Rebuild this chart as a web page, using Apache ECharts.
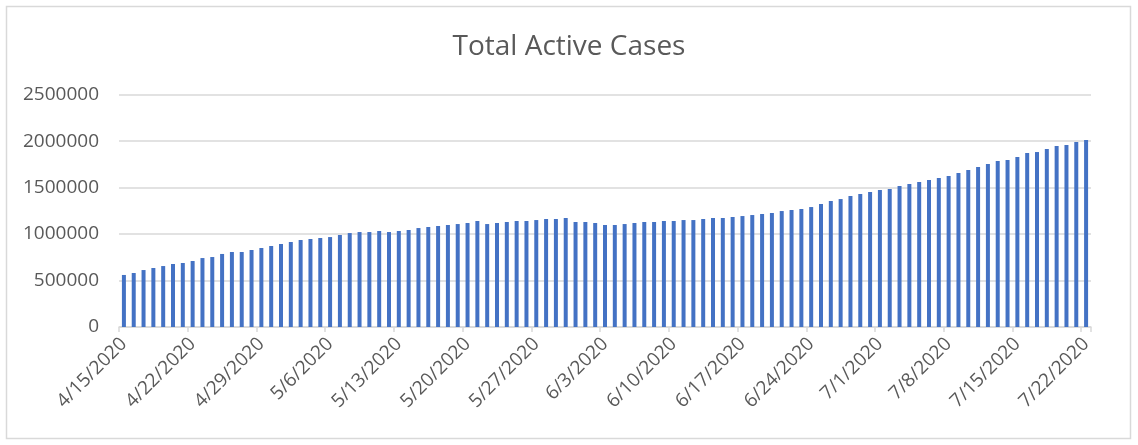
<!DOCTYPE html>
<html>
<head>
<meta charset="utf-8">
<script src="https://cdn.jsdelivr.net/npm/echarts@6/dist/echarts.min.js"></script>
<style>
html,body{margin:0;padding:0;background:#fff;}
#c{width:1138px;height:445px;}
</style>
</head>
<body>
<div id="c"></div>
<script>
var chartTitle = "Total Active Cases";
var dates = [
"4/15/2020","4/16/2020","4/17/2020","4/18/2020","4/19/2020","4/20/2020","4/21/2020","4/22/2020","4/23/2020","4/24/2020","4/25/2020","4/26/2020","4/27/2020","4/28/2020","4/29/2020","4/30/2020",
"5/1/2020","5/2/2020","5/3/2020","5/4/2020","5/5/2020","5/6/2020","5/7/2020","5/8/2020","5/9/2020","5/10/2020","5/11/2020","5/12/2020","5/13/2020","5/14/2020","5/15/2020","5/16/2020","5/17/2020","5/18/2020","5/19/2020","5/20/2020","5/21/2020","5/22/2020","5/23/2020","5/24/2020","5/25/2020","5/26/2020","5/27/2020","5/28/2020","5/29/2020","5/30/2020","5/31/2020",
"6/1/2020","6/2/2020","6/3/2020","6/4/2020","6/5/2020","6/6/2020","6/7/2020","6/8/2020","6/9/2020","6/10/2020","6/11/2020","6/12/2020","6/13/2020","6/14/2020","6/15/2020","6/16/2020","6/17/2020","6/18/2020","6/19/2020","6/20/2020","6/21/2020","6/22/2020","6/23/2020","6/24/2020","6/25/2020","6/26/2020","6/27/2020","6/28/2020","6/29/2020","6/30/2020",
"7/1/2020","7/2/2020","7/3/2020","7/4/2020","7/5/2020","7/6/2020","7/7/2020","7/8/2020","7/9/2020","7/10/2020","7/11/2020","7/12/2020","7/13/2020","7/14/2020","7/15/2020","7/16/2020","7/17/2020","7/18/2020","7/19/2020","7/20/2020","7/21/2020","7/22/2020"
];
var activeCases = [
560000,581000,613000,635000,656000,678000,689000,710000,742000,753000,
786000,807000,807000,829000,850000,872000,893000,915000,936000,947000,
958000,968000,990000,1011000,1022000,1022000,1033000,1022000,1033000,1044000,
1065000,1076000,1087000,1098000,1108000,1119000,1141000,1108000,1119000,1130000,
1141000,1141000,1151000,1162000,1162000,1173000,1130000,1130000,1119000,1098000,
1098000,1108000,1119000,1130000,1130000,1141000,1141000,1151000,1151000,1162000,
1173000,1173000,1184000,1194000,1205000,1216000,1227000,1248000,1259000,1270000,
1291000,1324000,1356000,1377000,1410000,1431000,1453000,1474000,1485000,1517000,
1539000,1560000,1582000,1603000,1625000,1657000,1689000,1722000,1754000,1786000,
1797000,1829000,1872000,1883000,1915000,1948000,1958000,1991000,2012000
];
var yTicks = [0, 500000, 1000000, 1500000, 2000000, 2500000];

var FONT = "'Open Sans', 'Liberation Sans', sans-serif";
var TXT = "#595959";
var GRID = "#D9D9D9";

var chart = echarts.init(document.getElementById('c'), null, {renderer:'canvas'});
chart.setOption({
  animation: false,
  backgroundColor: '#ffffff',
  title: {
    text: chartTitle,
    left: 'center',
    top: 28,
    textStyle: {fontFamily: FONT, fontSize: 28, fontWeight: 'normal', color: TXT}
  },
  graphic: [{
    type: 'rect',
    shape: {x: 6.5, y: 6.5, width: 1124, height: 432},
    style: {fill: 'none', stroke: GRID, lineWidth: 1.5},
    silent: true
  }],
  grid: {left: 119, right: 47, top: 94.7, bottom: 118},
  xAxis: {
    type: 'category',
    data: dates,
    boundaryGap: true,
    axisLine: {lineStyle: {color: GRID, width: 1.5}},
    axisTick: {show: true, interval: 6, length: 5, lineStyle: {color: GRID, width: 1.5}},
    axisLabel: {interval: 6, rotate: 45, margin: 14, fontFamily: FONT, fontSize: 19, color: TXT}
  },
  yAxis: {
    type: 'value',
    min: yTicks[0],
    max: yTicks[yTicks.length - 1],
    interval: yTicks[1] - yTicks[0],
    axisLine: {show: false},
    axisTick: {show: false},
    splitLine: {lineStyle: {color: GRID, width: 1.5}},
    axisLabel: {margin: 20, fontFamily: FONT, fontSize: 19, color: TXT,
      formatter: function (v) { return String(v); }}
  },
  series: [{
    type: 'bar',
    data: activeCases,
    barWidth: 4,
    itemStyle: {color: '#4472C4'}
  }]
});
</script>
</body>
</html>
